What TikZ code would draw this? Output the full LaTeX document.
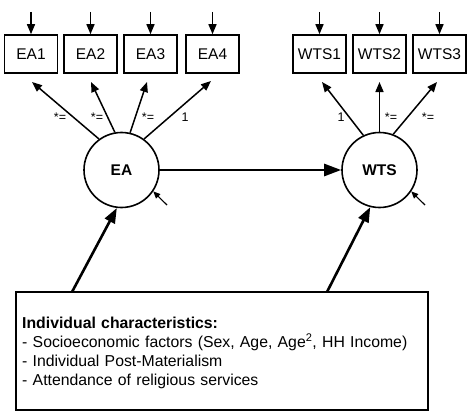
\documentclass[tikz,border=0pt]{standalone}
\usepackage{fontspec}
\setmainfont{Liberation Sans}
\usetikzlibrary{arrows.meta}
\begin{document}
\begin{tikzpicture}[x=1pt,y=-1pt,
 ind/.style={draw,line width=1.6pt,minimum width=53pt,minimum height=38pt,inner sep=0pt,font=\fontsize{15.5}{18}\selectfont},
 lat/.style={draw,circle,line width=1.6pt,minimum size=75pt,inner sep=0pt,font=\bfseries\fontsize{15.5}{18}\selectfont},
 thinarr/.style={line width=1.5pt,-{Triangle[length=10pt,width=8pt]}},
 thickarr/.style={line width=2.6pt,-{Triangle[length=15pt,width=11pt]}},
 resid/.style={line width=1.1pt,-{Triangle[length=7pt,width=6pt]}},
 lab/.style={font=\fontsize{12.5}{14}\selectfont,inner sep=0pt}]
\useasboundingbox (0,0) rectangle (474,412);
% indicators
\node[ind] (ea1) at (31,54) {EA1};
\node[ind] (ea2) at (90.5,54) {EA2};
\node[ind] (ea3) at (150.5,54) {EA3};
\node[ind] (ea4) at (212.5,54) {EA4};
\node[ind] (w1) at (319.5,54) {WTS1};
\node[ind] (w2) at (379.5,54) {WTS2};
\node[ind] (w3) at (439.5,54) {WTS3};
% latent
\node[lat] (ea) at (121.5,170) {EA};
\node[lat] (wts) at (379.5,170) {WTS};
% error arrows on indicators
\foreach \n/\x in {ea1/31,ea2/90.5,ea3/150.5,ea4/212.5,w1/319.5,w2/379.5,w3/439.5}{
  \coordinate (e\n) at (\x,12);
  \draw[thinarr] (e\n) -- (\n.north);
}
% loadings
\coordinate (a1) at (32,82);
\coordinate (a2) at (91,82);
\coordinate (a3) at (147,82);
\coordinate (a4) at (211,81);
\draw[thinarr] (ea.126) -- (a1);
\draw[thinarr] (ea.100) -- (a2);
\draw[thinarr] (ea.77) -- (a3);
\draw[thinarr] (ea.54) -- (a4);
\coordinate (b1) at (322,82);
\coordinate (b2) at (379.5,82);
\coordinate (b3) at (437,82);
\draw[thinarr] (wts.115) -- (b1);
\draw[thinarr] (wts.90) -- (b2);
\draw[thinarr] (wts.69) -- (b3);
% loading labels
\node[lab] (l1) at (60,117) {*=};
\node[lab] (l2) at (97,117) {*=};
\node[lab] (l3) at (148,117) {*=};
\node[lab] (l4) at (185,117) {1};
\node[lab] (l5) at (341,117) {1};
\node[lab] (l6) at (391,117) {*=};
\node[lab] (l7) at (428,117) {*=};
% structural path
\draw[line width=2.6pt,-{Triangle[length=17pt,width=12pt]}] (ea) -- (wts);
% residuals
\coordinate (r1) at (167,205);
\coordinate (r2) at (425,205);
\draw[resid] (r1) -- (ea.-34);
\draw[resid] (r2) -- (wts.-34);
% covariates box
\node[draw,line width=1.8pt,minimum width=412pt,minimum height=118pt,inner sep=0pt] (ic) at (222,351) {};
\node[anchor=base west,inner sep=0pt,text width=400pt,align=left,font=\fontsize{15.8}{19.2}\selectfont] (ict) at (22,328) {\textbf{Individual characteristics:}\\- Socioeconomic factors (Sex, Age, Age\textsuperscript{2}, HH Income)\\- Individual Post-Materialism\\- Attendance of religious services};
\coordinate (c1) at (72,292);
\coordinate (c2) at (327,292);
\draw[thickarr] (c1) -- (ea.263);
\draw[thickarr] (c2) -- (wts.256);
\end{tikzpicture}
\end{document}
